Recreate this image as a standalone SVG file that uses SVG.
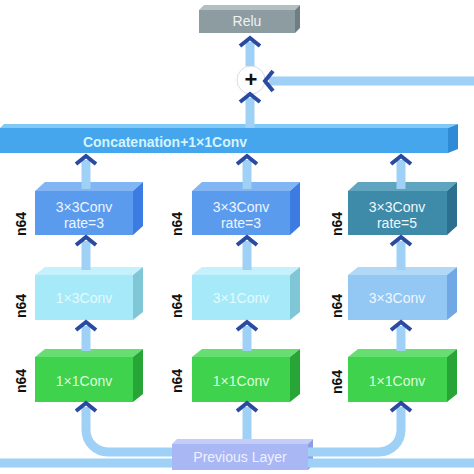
<svg xmlns="http://www.w3.org/2000/svg" width="474" height="474" viewBox="0 0 474 474">
<defs>
<style>
.t{font-family:"Liberation Sans",Arial,sans-serif;font-size:14px;text-anchor:middle}
.n{font-family:"Liberation Sans",Arial,sans-serif;font-size:14px;font-weight:bold;fill:#111;text-anchor:middle}
.c{fill:none;stroke:#9fd0f6;stroke-width:9}
</style>
<marker id="chev" markerUnits="userSpaceOnUse" markerWidth="30" markerHeight="30" viewBox="-15 -15 30 30" refX="-4" refY="0" orient="auto">
<path d="M-8,-10 L0,0 L-8,10" fill="none" stroke="#2a4aa2" stroke-width="4" stroke-linejoin="miter"/>
</marker>
</defs>
<rect width="474" height="474" fill="#fff"/>

<g id="relu">
<polygon points="199,10 204,5 300,5 295,10" fill="#b3bfc3"/>
<polygon points="295,10 300,5 300,28 295,33" fill="#6f7e83"/>
<rect x="199" y="10" width="96" height="23" fill="#8d9ca1"/>
<text class="t" x="247" y="26" fill="#eef2f3">Relu</text>
</g>

<g id="add">
<circle cx="251" cy="80" r="14" fill="#fff" stroke="#d6dde3" stroke-width="1"/>
<text x="251" y="87" text-anchor="middle" font-family="Liberation Sans,Arial,sans-serif" font-size="22" font-weight="bold" fill="#111">+</text>
</g>

<g id="concat">
<polygon points="0,128 4,124 458,124 448,128" fill="#82c8f6"/>
<polygon points="448,128 458,124 458,149 448,153" fill="#2f8bd6"/>
<rect x="0" y="128" width="448" height="25" fill="#45a6ee"/>
<text class="t" x="165" y="147" fill="#d4f4ff" style="font-weight:bold">Concatenation+1×1Conv</text>
</g>

<g id="c1top">
<polygon points="35,191 45,182 143,182 133,191" fill="#82b5f4"/>
<polygon points="133,191 143,182 143,226 133,235" fill="#3c7ce2"/>
<rect x="35" y="191" width="98" height="44" fill="#5b9bee"/>
<text class="t" x="84" y="212" fill="#eef5ff">3×3Conv</text>
<text class="t" x="84" y="228" fill="#eef5ff">rate=3</text>
</g>
<g id="c2top">
<polygon points="192,191 202,182 300,182 290,191" fill="#82b5f4"/>
<polygon points="290,191 300,182 300,226 290,235" fill="#3c7ce2"/>
<rect x="192" y="191" width="98" height="44" fill="#5b9bee"/>
<text class="t" x="241" y="212" fill="#eef5ff">3×3Conv</text>
<text class="t" x="241" y="228" fill="#eef5ff">rate=3</text>
</g>
<g id="c3top">
<polygon points="348,191 358,182 457,182 447,191" fill="#5fa5c0"/>
<polygon points="447,191 457,182 457,226 447,235" fill="#2c6f8e"/>
<rect x="348" y="191" width="99" height="44" fill="#3d8aa9"/>
<text class="t" x="397" y="212" fill="#eef7fb">3×3Conv</text>
<text class="t" x="397" y="228" fill="#eef7fb">rate=5</text>
</g>

<g id="c1mid">
<polygon points="35,275 45,267 143,267 133,275" fill="#c4f1fb"/>
<polygon points="133,275 143,267 143,312 133,320" fill="#7fc7d6"/>
<rect x="35" y="275" width="98" height="45" fill="#a6e9f9"/>
<text class="t" x="84" y="303" fill="#e2fbff">1×3Conv</text>
</g>
<g id="c2mid">
<polygon points="192,275 202,267 300,267 290,275" fill="#c4f1fb"/>
<polygon points="290,275 300,267 300,312 290,320" fill="#7fc7d6"/>
<rect x="192" y="275" width="98" height="45" fill="#a6e9f9"/>
<text class="t" x="241" y="303" fill="#e2fbff">3×1Conv</text>
</g>
<g id="c3mid">
<polygon points="348,275 358,267 457,267 447,275" fill="#b2d8f8"/>
<polygon points="447,275 457,267 457,312 447,320" fill="#6fa8e4"/>
<rect x="348" y="275" width="99" height="45" fill="#93c7f4"/>
<text class="t" x="397" y="303" fill="#eef7ff">3×3Conv</text>
</g>

<g id="c1bot">
<polygon points="35,357 45,349 143,349 133,357" fill="#66de72"/>
<polygon points="133,357 143,349 143,394 133,402" fill="#27a536"/>
<rect x="35" y="357" width="98" height="45" fill="#3ed24d"/>
<text class="t" x="84" y="386" fill="#dcffdc">1×1Conv</text>
</g>
<g id="c2bot">
<polygon points="192,357 202,349 300,349 290,357" fill="#66de72"/>
<polygon points="290,357 300,349 300,394 290,402" fill="#27a536"/>
<rect x="192" y="357" width="98" height="45" fill="#3ed24d"/>
<text class="t" x="241" y="386" fill="#dcffdc">1×1Conv</text>
</g>
<g id="c3bot">
<polygon points="348,357 358,349 457,349 447,357" fill="#66de72"/>
<polygon points="447,357 457,349 457,394 447,402" fill="#27a536"/>
<rect x="348" y="357" width="99" height="45" fill="#3ed24d"/>
<text class="t" x="397" y="386" fill="#dcffdc">1×1Conv</text>
</g>

<g id="prev">
<polygon points="172,444 177,439 313,439 308,444" fill="#c4cdf8"/>
<polygon points="308,444 313,439 313,465 308,470" fill="#8e9ee6"/>
<rect x="172" y="444" width="136" height="26" fill="#a9b7f4"/>
<text class="t" x="240" y="462" fill="#eef1ff">Previous Layer</text>
</g>

<g id="labels">
<text class="n" transform="translate(26,224) rotate(-90)">n64</text>
<text class="n" transform="translate(26,306) rotate(-90)">n64</text>
<text class="n" transform="translate(26,381) rotate(-90)">n64</text>
<text class="n" transform="translate(182,224) rotate(-90)">n64</text>
<text class="n" transform="translate(182,306) rotate(-90)">n64</text>
<text class="n" transform="translate(182,381) rotate(-90)">n64</text>
<text class="n" transform="translate(342,224) rotate(-90)">n64</text>
<text class="n" transform="translate(342,306) rotate(-90)">n64</text>
<text class="n" transform="translate(342,382) rotate(-90)">n64</text>
</g>

<g id="connectors">
<path class="c" d="M0,463 H172"/>
<path class="c" d="M308,463 H474"/>
<path class="c" d="M172,452 H108 A22,22 0 0 1 86,430 V407" marker-end="url(#chev)"/>
<path class="c" d="M308,452 H379 A22,22 0 0 0 401,430 V407" marker-end="url(#chev)"/>
<path class="c" d="M247,439 V407" marker-end="url(#chev)"/>
<path class="c" d="M86,351 V326" marker-end="url(#chev)"/>
<path class="c" d="M247,351 V326" marker-end="url(#chev)"/>
<path class="c" d="M401,351 V326" marker-end="url(#chev)"/>
<path class="c" d="M86,270 V241" marker-end="url(#chev)"/>
<path class="c" d="M247,270 V241" marker-end="url(#chev)"/>
<path class="c" d="M401,270 V241" marker-end="url(#chev)"/>
<path class="c" d="M86,189 V160" marker-end="url(#chev)"/>
<path class="c" d="M247,189 V160" marker-end="url(#chev)"/>
<path class="c" d="M401,189 V160" marker-end="url(#chev)"/>
<path class="c" d="M250,128 V98" marker-end="url(#chev)"/>
<path class="c" d="M474,81 H269" marker-end="url(#chev)"/>
<path class="c" d="M250,66 V42" marker-end="url(#chev)"/>
</g>
</svg>
